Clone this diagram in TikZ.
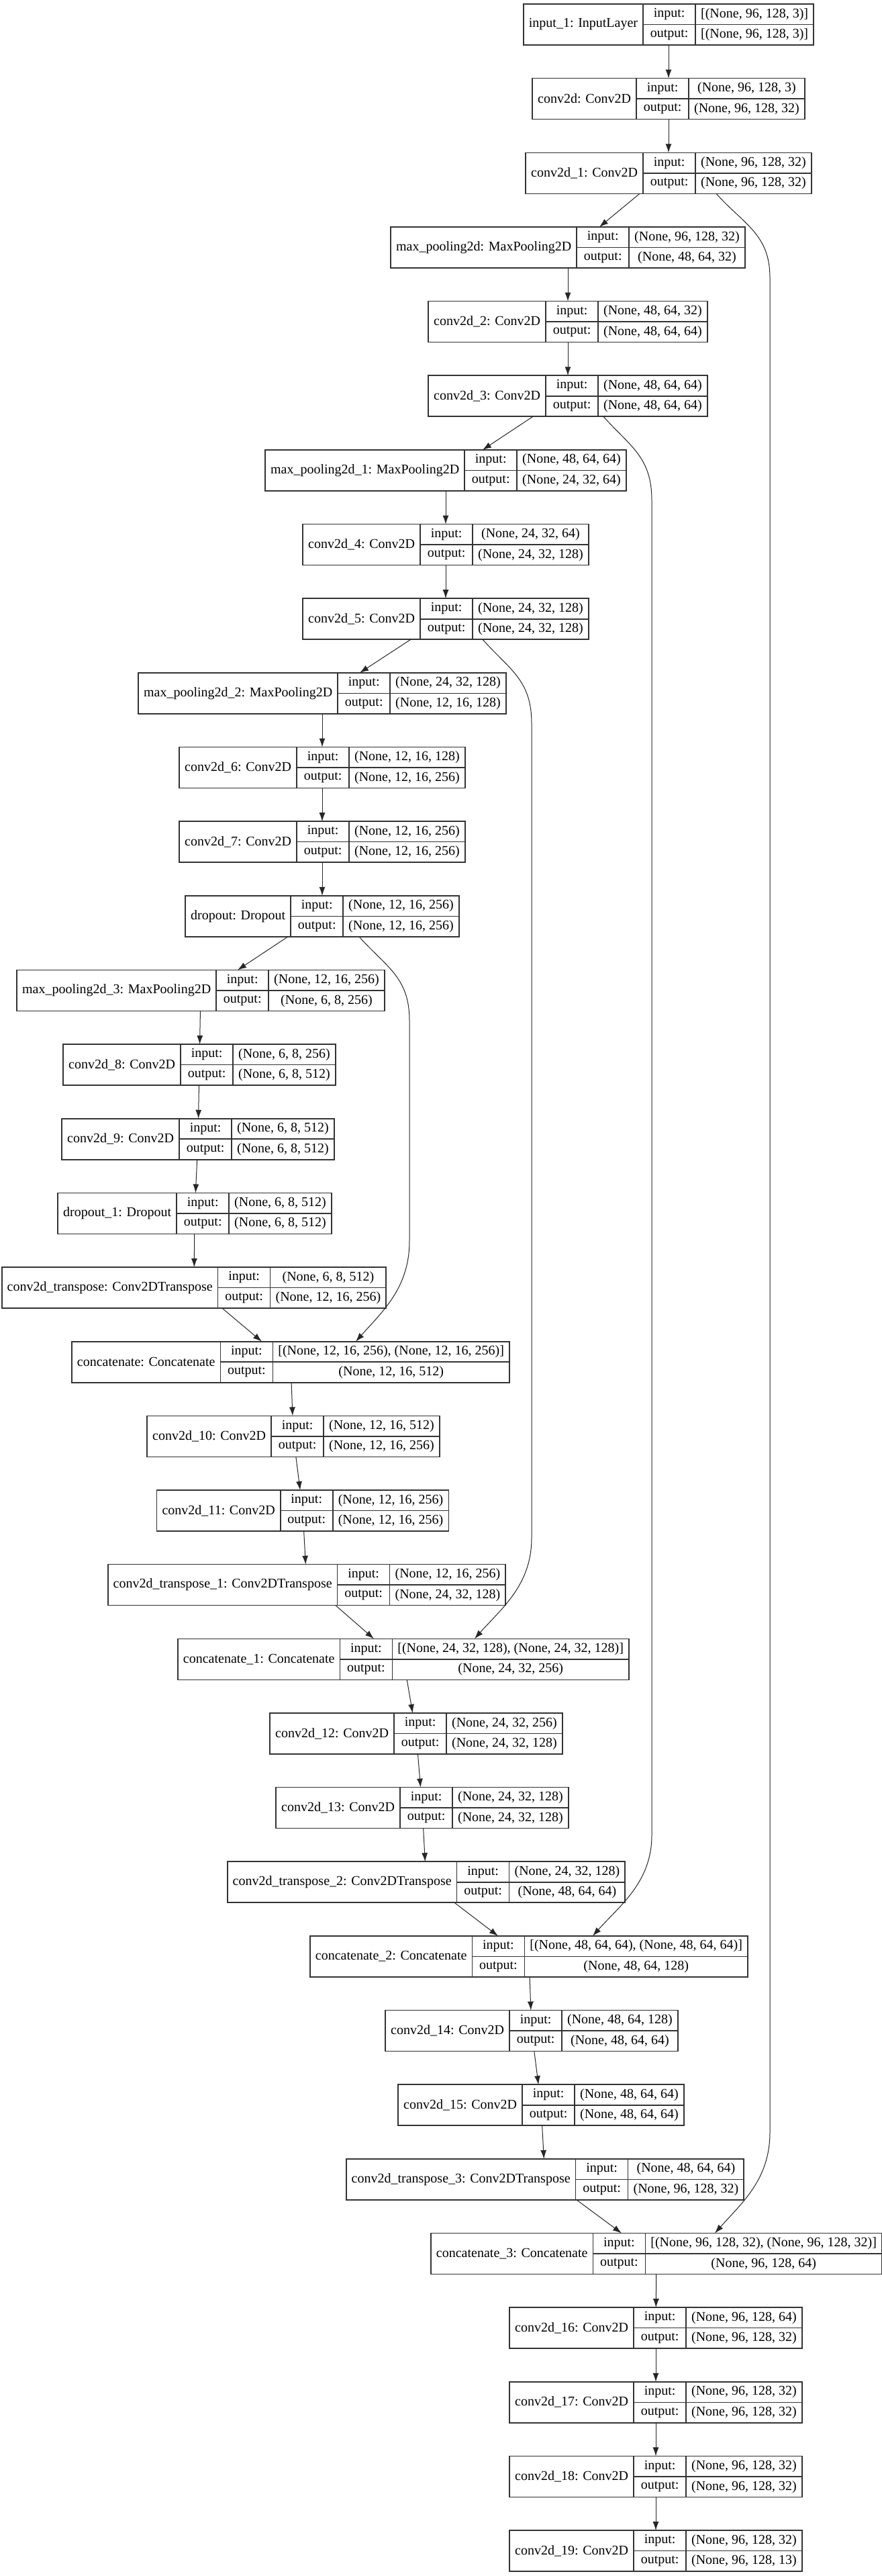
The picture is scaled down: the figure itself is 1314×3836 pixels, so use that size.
\documentclass[tikz,border=0pt]{standalone}
\usepackage{fontspec}
\setmainfont{Liberation Serif}
\usetikzlibrary{arrows.meta,calc}
\newcommand\lf{\fontsize{20}{24}\selectfont}
\newlength\lwa\newlength\lwb\newlength\lwc
\newcommand\layer[6]{%
 \pgfinterruptpicture
 \setbox0=\hbox{\normalfont\lf #4}\global\lwa=\wd0
 \setbox0=\hbox{\normalfont\lf #5}\global\lwb=\wd0
 \setbox0=\hbox{\normalfont\lf #6}\global\lwc=\wd0
 \endpgfinterruptpicture
 \ifdim\lwc>\lwb \global\lwb=\lwc\fi
 \pgfmathsetmacro\nw{\lwa+16}%
 \pgfmathsetmacro\vw{\lwb+16}%
 \pgfmathsetmacro\tw{\nw+78+\vw}%
 \pgfmathsetmacro\yt{6+110.65*#3}%
 \pgfmathsetmacro\xl{#2-\tw/2}%
 \pgfmathsetmacro\xa{\xl+\nw}%
 \pgfmathsetmacro\xb{\xa+78}%
 \pgfmathsetmacro\xr{\xl+\tw}%
 \node[box, minimum width=\tw pt] (#1) at (#2,\yt+30.5) {};
 \draw[cell] (\xa,\yt) -- (\xa,\yt+61) (\xb,\yt) -- (\xb,\yt+61) (\xa,\yt+30.5) -- (\xr,\yt+30.5);
 \node[txt] (#1t) at ({(\xl+\xa)/2},\yt+30.5) {#4};
 \node[txt] (#1i) at ({(\xa+\xb)/2},\yt+15.25) {input:};
 \node[txt] (#1o) at ({(\xa+\xb)/2},\yt+45.75) {output:};
 \node[txt] (#1v) at ({(\xb+\xr)/2},\yt+15.25) {#5};
 \node[txt] (#1w) at ({(\xb+\xr)/2},\yt+45.75) {#6};
}
\newcommand\skipc[7]{% from, iA, dxs, vx, to, iB, dxe
 \pgfmathsetmacro\ys{6+110.65*#2+61}%
 \pgfmathsetmacro\ye{6+110.65*#6}%
 \draw[edge] ([xshift=#3pt]#1.south) coordinate (s#1) .. controls ($(s#1)+(40,45)$) and (#4,\ys+60) .. (#4,\ys+125)
   -- (#4,\ye-150) .. controls (#4,\ye-80) and ($([xshift=#7pt]#5.north)+(40,-45)$) .. ([xshift=#7pt]#5.north);
}
\newcommand\offe[4]{\draw[edge] ([xshift=#2pt]#1.south) -- ([xshift=#4pt]#3.north);}
\begin{document}
\begin{tikzpicture}[x=1pt,y=-1pt,
 box/.style={draw=black!80,line width=1.6pt,minimum height=61pt,inner sep=0pt,outer sep=0pt},
 cell/.style={draw=black!80,line width=1.6pt},
 txt/.style={font=\lf,inner sep=0pt},
 edge/.style={draw=black!85,line width=1pt,-{Latex[length=13pt,width=9pt]}}]
\fill[white] (0,0) rectangle (1314,3836);
\useasboundingbox (0,0) rectangle (1314,3836);
\layer{L0}{996}{0}{input\_1: InputLayer}{[(None, 96, 128, 3)]}{[(None, 96, 128, 3)]}
\layer{L1}{996}{1}{conv2d: Conv2D}{(None, 96, 128, 3)}{(None, 96, 128, 32)}
\layer{L2}{996}{2}{conv2d\_1: Conv2D}{(None, 96, 128, 32)}{(None, 96, 128, 32)}
\layer{L3}{846}{3}{max\_pooling2d: MaxPooling2D}{(None, 96, 128, 32)}{(None, 48, 64, 32)}
\layer{L4}{846}{4}{conv2d\_2: Conv2D}{(None, 48, 64, 32)}{(None, 48, 64, 64)}
\layer{L5}{846}{5}{conv2d\_3: Conv2D}{(None, 48, 64, 64)}{(None, 48, 64, 64)}
\layer{L6}{664}{6}{max\_pooling2d\_1: MaxPooling2D}{(None, 48, 64, 64)}{(None, 24, 32, 64)}
\layer{L7}{664}{7}{conv2d\_4: Conv2D}{(None, 24, 32, 64)}{(None, 24, 32, 128)}
\layer{L8}{664}{8}{conv2d\_5: Conv2D}{(None, 24, 32, 128)}{(None, 24, 32, 128)}
\layer{L9}{480}{9}{max\_pooling2d\_2: MaxPooling2D}{(None, 24, 32, 128)}{(None, 12, 16, 128)}
\layer{L10}{480}{10}{conv2d\_6: Conv2D}{(None, 12, 16, 128)}{(None, 12, 16, 256)}
\layer{L11}{480}{11}{conv2d\_7: Conv2D}{(None, 12, 16, 256)}{(None, 12, 16, 256)}
\layer{L12}{480}{12}{dropout: Dropout}{(None, 12, 16, 256)}{(None, 12, 16, 256)}
\layer{L13}{299}{13}{max\_pooling2d\_3: MaxPooling2D}{(None, 12, 16, 256)}{(None, 6, 8, 256)}
\layer{L14}{297}{14}{conv2d\_8: Conv2D}{(None, 6, 8, 256)}{(None, 6, 8, 512)}
\layer{L15}{295}{15}{conv2d\_9: Conv2D}{(None, 6, 8, 512)}{(None, 6, 8, 512)}
\layer{L16}{290}{16}{dropout\_1: Dropout}{(None, 6, 8, 512)}{(None, 6, 8, 512)}
\layer{L17}{289}{17}{conv2d\_transpose: Conv2DTranspose}{(None, 6, 8, 512)}{(None, 12, 16, 256)}
\layer{L18}{433}{18}{concatenate: Concatenate}{[(None, 12, 16, 256), (None, 12, 16, 256)]}{(None, 12, 16, 512)}
\layer{L19}{437}{19}{conv2d\_10: Conv2D}{(None, 12, 16, 512)}{(None, 12, 16, 256)}
\layer{L20}{451}{20}{conv2d\_11: Conv2D}{(None, 12, 16, 256)}{(None, 12, 16, 256)}
\layer{L21}{457}{21}{conv2d\_transpose\_1: Conv2DTranspose}{(None, 12, 16, 256)}{(None, 24, 32, 128)}
\layer{L22}{601}{22}{concatenate\_1: Concatenate}{[(None, 24, 32, 128), (None, 24, 32, 128)]}{(None, 24, 32, 256)}
\layer{L23}{620}{23}{conv2d\_12: Conv2D}{(None, 24, 32, 256)}{(None, 24, 32, 128)}
\layer{L24}{629}{24}{conv2d\_13: Conv2D}{(None, 24, 32, 128)}{(None, 24, 32, 128)}
\layer{L25}{635}{25}{conv2d\_transpose\_2: Conv2DTranspose}{(None, 24, 32, 128)}{(None, 48, 64, 64)}
\layer{L26}{788}{26}{concatenate\_2: Concatenate}{[(None, 48, 64, 64), (None, 48, 64, 64)]}{(None, 48, 64, 128)}
\layer{L27}{792}{27}{conv2d\_14: Conv2D}{(None, 48, 64, 128)}{(None, 48, 64, 64)}
\layer{L28}{806}{28}{conv2d\_15: Conv2D}{(None, 48, 64, 64)}{(None, 48, 64, 64)}
\layer{L29}{812}{29}{conv2d\_transpose\_3: Conv2DTranspose}{(None, 48, 64, 64)}{(None, 96, 128, 32)}
\layer{L30}{978}{30}{concatenate\_3: Concatenate}{[(None, 96, 128, 32), (None, 96, 128, 32)]}{(None, 96, 128, 64)}
\layer{L31}{977}{31}{conv2d\_16: Conv2D}{(None, 96, 128, 64)}{(None, 96, 128, 32)}
\layer{L32}{977}{32}{conv2d\_17: Conv2D}{(None, 96, 128, 32)}{(None, 96, 128, 32)}
\layer{L33}{977}{33}{conv2d\_18: Conv2D}{(None, 96, 128, 32)}{(None, 96, 128, 32)}
\layer{L34}{977}{34}{conv2d\_19: Conv2D}{(None, 96, 128, 32)}{(None, 96, 128, 13)}
\foreach \a/\b in {L0/L1,L1/L2,L3/L4,L4/L5,L6/L7,L7/L8,L9/L10,L10/L11,L11/L12,L13/L14,L14/L15,L15/L16,L16/L17,L18/L19,L19/L20,L20/L21,L22/L23,L23/L24,L24/L25,L26/L27,L27/L28,L28/L29,L30/L31,L31/L32,L32/L33,L33/L34}
  \draw[edge] (\a) -- (\b);
\offe{L2}{-43}{L3}{47}
\offe{L5}{-52}{L6}{55}
\offe{L8}{-52}{L9}{56}
\offe{L12}{-51}{L13}{55}
\offe{L17}{42}{L18}{-43}
\offe{L21}{43}{L22}{-44}
\offe{L25}{42}{L26}{-46}
\offe{L29}{47}{L30}{-52}
\skipc{L2}{2}{71}{1147}{L30}{30}{87}
\skipc{L5}{5}{53}{971}{L26}{26}{95}
\skipc{L8}{8}{55}{792}{L22}{22}{106}
\skipc{L12}{12}{55}{610}{L18}{18}{97}
\end{tikzpicture}
\end{document}
